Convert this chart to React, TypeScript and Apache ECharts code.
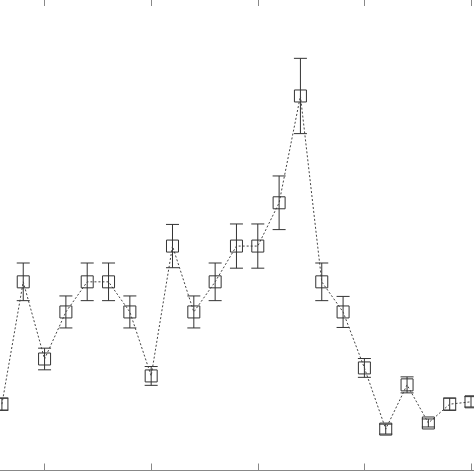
import { useEffect, useRef } from 'react';
import * as echarts from 'echarts';

const xIndex = [0, 1, 2, 3, 4, 5, 6, 7, 8, 9, 10, 11, 12, 13, 14, 15, 16, 17, 18, 19, 20, 21, 22];
const means = [14.1, 40.1, 23.7, 33.7, 40.1, 40.1, 33.7, 20.1, 47.7, 33.7, 40.1, 47.7, 47.7, 56.9, 79.6, 40.1, 33.7, 21.8, 8.8, 18.2, 10.1, 14.1, 14.6];
const errors = [1.3, 4.0, 2.3, 3.4, 4.0, 4.0, 3.4, 2.0, 4.6, 3.4, 4.0, 4.7, 4.7, 5.7, 8.0, 4.0, 3.3, 2.0, 1.05, 1.7, 0.85, 1.3, 1.1];
const tickValues = [2, 7, 12, 17, 22];

const ink = '#333';
const axisGray = '#888';

export default function App() {
  const chartRef = useRef<HTMLDivElement>(null);

  useEffect(() => {
    if (!chartRef.current) return;
    const chart = echarts.init(chartRef.current, undefined, { renderer: 'svg' });

    const lineData = xIndex.map((x, i) => [x, means[i]]);
    const errData = xIndex.map((x, i) => [x, means[i] - errors[i], means[i] + errors[i]]);

    const option: echarts.EChartsOption = {
      animation: false,
      backgroundColor: '#fff',
      grid: { left: 0, right: 0, top: 0, bottom: 3.5 },
      xAxis: [
        {
          type: 'value',
          min: -0.09,
          max: 22.14,
          position: 'bottom',
          axisLine: { show: true, lineStyle: { color: axisGray, width: 1 } },
          axisTick: { show: true, inside: true, length: 7, customValues: tickValues, lineStyle: { color: axisGray } },
          axisLabel: { show: false },
          splitLine: { show: false }
        },
        {
          type: 'value',
          min: -0.09,
          max: 22.14,
          position: 'top',
          axisLine: { show: false },
          axisTick: { show: true, inside: true, length: 6, customValues: tickValues, lineStyle: { color: axisGray } },
          axisLabel: { show: false },
          splitLine: { show: false }
        }
      ],
      yAxis: {
        type: 'value',
        min: 0,
        max: 100,
        show: false
      },
      series: [
        {
          type: 'custom',
          xAxisIndex: 0,
          data: errData,
          // error bars: vertical whisker with a cap at each end
          renderItem: (params: any, api: any) => {
            const x = api.value(0);
            const low = api.coord([x, api.value(1)]);
            const high = api.coord([x, api.value(2)]);
            const half = 6.5;
            const style = { stroke: ink, lineWidth: 1 };
            return {
              type: 'group',
              children: [
                { type: 'line', shape: { x1: low[0], y1: low[1], x2: high[0], y2: high[1] }, style },
                { type: 'line', shape: { x1: low[0] - half, y1: low[1], x2: low[0] + half, y2: low[1] }, style },
                { type: 'line', shape: { x1: high[0] - half, y1: high[1], x2: high[0] + half, y2: high[1] }, style }
              ]
            };
          },
          z: 2
        },
        {
          type: 'line',
          xAxisIndex: 0,
          data: lineData,
          symbol: 'rect',
          symbolSize: 12,
          lineStyle: { color: '#444', width: 1, type: [2, 2] },
          itemStyle: { color: 'rgba(0,0,0,0)', borderColor: ink, borderWidth: 1 },
          z: 3
        }
      ]
    };

    chart.setOption(option);
    return () => chart.dispose();
  }, []);

  return (
    <div style={{ position: 'absolute', left: 0, top: 0, width: 474, height: 474, background: '#fff' }}>
      <div ref={chartRef} style={{ width: 474, height: 474 }} />
    </div>
  );
}
